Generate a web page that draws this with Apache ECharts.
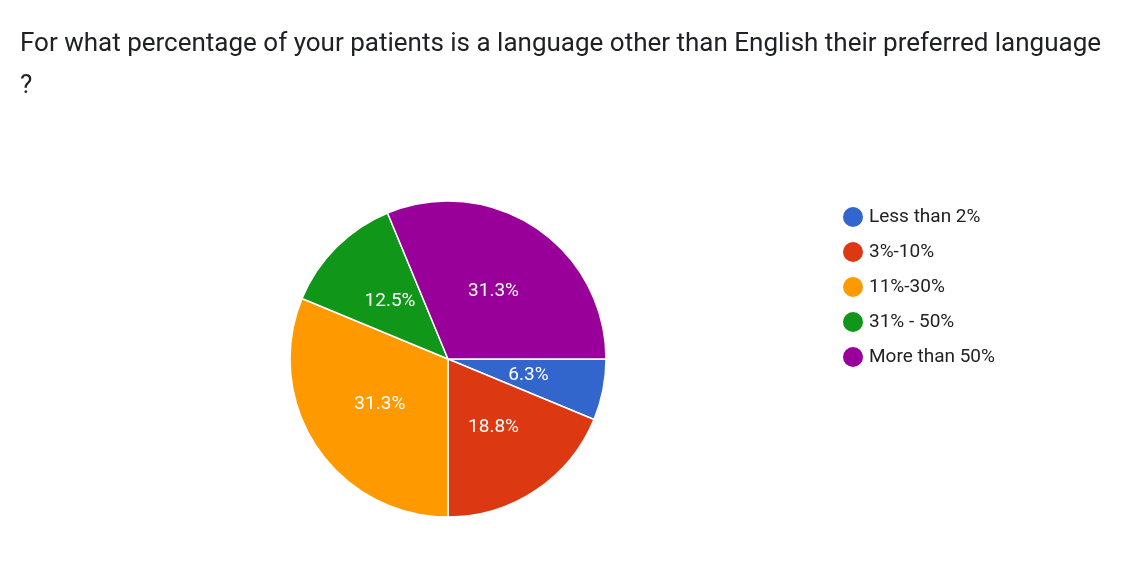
<!DOCTYPE html>
<html>
<head>
<meta charset="utf-8">
<script src="https://cdn.jsdelivr.net/npm/echarts@6/dist/echarts.min.js"></script>
<style>html,body{margin:0;padding:0;background:#fff}#chart{width:1130px;height:562px}</style>
</head>
<body>
<div id="chart"></div>
<script>
// answer options and response counts (16 responses)
const categories = ['Less than 2%', '3%-10%', '11%-30%', '31% - 50%', 'More than 50%'];
const counts = [1, 3, 5, 2, 5];
const colors = ['#3366cc', '#dc3912', '#ff9900', '#109618', '#990099'];

const total = counts.reduce((a, b) => a + b, 0);
const chart = echarts.init(document.getElementById('chart'));
chart.setOption({
  animation: false,
  title: {
    text: 'For what percentage of your patients is a language other than English their preferred language?',
    left: 15, top: 18,
    textStyle: {
      fontFamily: 'Roboto', fontWeight: 'normal', fontSize: 26, color: '#202124',
      width: 1090, overflow: 'break', lineHeight: 42
    }
  },
  legend: {
    orient: 'vertical', left: 836, top: 200,
    icon: 'circle', itemWidth: 22, itemHeight: 22, itemGap: 11,
    textStyle: { fontFamily: 'Roboto', fontSize: 19, color: '#222' },
    data: categories
  },
  color: colors,
  series: [{
    type: 'pie',
    center: [448, 359], radius: 158,
    startAngle: 0, clockwise: true,
    itemStyle: { borderColor: '#fff', borderWidth: 1.5 },
    label: {
      position: 'inner', color: '#fff', fontFamily: 'Roboto', fontSize: 19,
      formatter: p => (Math.round(p.value / total * 1000) / 10).toFixed(1) + '%'
    },
    labelLine: { show: false },
    emphasis: { disabled: true },
    data: categories.map((c, i) => ({ name: c, value: counts[i] }))
  }]
});
</script>
</body>
</html>
